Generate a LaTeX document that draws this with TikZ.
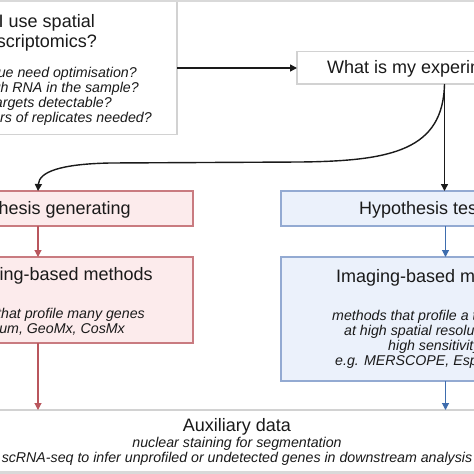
\documentclass[tikz,border=0pt]{standalone}
\usepackage{fontspec}
\setmainfont{Liberation Sans}
\usetikzlibrary{arrows.meta}
\definecolor{boxgray}{HTML}{D2D2D2}
\definecolor{bandgray}{HTML}{D9D9D9}
\definecolor{redline}{HTML}{C97B80}
\definecolor{redfill}{HTML}{FCEBEC}
\definecolor{redarr}{HTML}{B9565D}
\definecolor{blueline}{HTML}{93AAD2}
\definecolor{bluefill}{HTML}{EBF1FB}
\definecolor{bluearr}{HTML}{3E6DAE}
\definecolor{txt}{HTML}{1A1A1A}
\begin{document}
\begin{tikzpicture}[x=1pt,y=-1pt,
  boxbase/.style={inner sep=0pt, outer sep=0pt, line width=1.1pt, anchor=north west},
  graybox/.style={boxbase, draw=boxgray, fill=white},
  redbox/.style={boxbase, draw=redline, fill=redfill},
  bluebox/.style={boxbase, draw=blueline, fill=bluefill},
  big/.style={font=\fontsize{18}{21}\selectfont, inner sep=0pt, text=txt},
  small/.style={font=\fontsize{14.2}{15}\selectfont\itshape, inner sep=0pt, text=txt},
  blackarrow/.style={-{Triangle[length=7pt,width=7pt]}, line width=1.4pt, draw=txt},
  redarrow/.style={-{Triangle[length=7pt,width=7pt]}, line width=1.1pt, draw=redarr},
  bluearrow/.style={-{Triangle[length=7pt,width=7pt]}, line width=1.1pt, draw=bluearr}]
\useasboundingbox (0,0) rectangle (474,474);
\clip (0,0) rectangle (474,474);
\fill[white] (0,0) rectangle (474,474);

% boxes
\node[graybox, minimum width=187pt, minimum height=133pt] (Q) at (-10,1.5) {};
\node[graybox, minimum width=200pt, minimum height=32.5pt] (E) at (297,51.5) {};
\node[redbox, minimum width=203pt, minimum height=35pt] (HG) at (-10,191) {};
\node[redbox, minimum width=203pt, minimum height=86pt] (IG) at (-10,257) {};
\node[bluebox, minimum width=210pt, minimum height=35pt] (HT) at (281,191) {};
\node[bluebox, minimum width=210pt, minimum height=124pt] (IT) at (281,257) {};
\node[graybox, minimum width=500pt, minimum height=70pt] (AX) at (-10,410) {};

% gray frame bands
\fill[bandgray] (0,0) rectangle (474,1.8);
\fill[bandgray] (0,471) rectangle (474,474);

% texts: question box
\node[big, anchor=base east] (q1) at (95,27) {Should I use spatial};
\node[big, anchor=base east] (q2) at (97,47) {transcriptomics?};
\node[small, anchor=base east] (q3) at (137,77) {Does the tissue need optimisation?};
\node[small, anchor=base east] (q4) at (139,92) {Is there enough RNA in the sample?};
\node[small, anchor=base east] (q5) at (112,107) {Are the targets detectable?};
\node[small, anchor=base east] (q6) at (152,122) {What numbers of replicates needed?};

% experiment box
\node[big, anchor=base west] (e1) at (327,73) {What is my experimental aim?};

% red side
\node[big, anchor=base east] (hg1) at (131,214) {Hypothesis generating};
\node[big, anchor=base east] (ig1) at (153,280) {Sequencing-based methods};
\node[small, anchor=base east] (ig2) at (145,318) {methods that profile many genes};
\node[small, anchor=base east] (ig3) at (125,333) {e.g. Visium, GeoMx, CosMx};

% blue side
\node[big, anchor=base west] (ht1) at (359,214) {Hypothesis testing};
\node[big, anchor=base west] (it1) at (336,282) {Imaging-based methods};
\node[small, anchor=base west] (it2) at (332,320) {methods that profile a targeted panel};
\node[small, anchor=base west] (it3) at (344,335) {at high spatial resolution and};
\node[small, anchor=base west] (it4) at (388,350) {high sensitivity};
\node[small, anchor=base west] (it5) at (335,365) {e.g. MERSCOPE, Espeon};

% auxiliary
\node[big, anchor=base] (ax1) at (237,431) {Auxiliary data};
\node[small, anchor=base] (ax2) at (237,447) {nuclear staining for segmentation};
\node[small, anchor=base] (ax3) at (237,462) {scRNA-seq to infer unprofiled or undetected genes in downstream analysis};

% connector coordinates
\coordinate (cE) at (444.5,0);
\coordinate (cL) at (38,0);
\coordinate (cR) at (445.5,0);

% connectors
\draw[blackarrow] (Q.east) -- (Q.east -| E.west);
\draw[blackarrow] (E.south -| cE) -- (HT.north -| cE);
\draw[blackarrow] (E.south -| cE) .. controls (443,150) and (392,161) .. (300,162)
   -- (110,163) .. controls (60,164) and (39,172) .. (HG.north -| cL);
\draw[redarrow] (HG.south -| cL) -- (IG.north -| cL);
\draw[redarrow] (IG.south -| cL) -- (AX.north -| cL);
\draw[bluearrow] (HT.south -| cR) -- (IT.north -| cR);
\draw[bluearrow] (IT.south -| cR) -- (AX.north -| cR);
\end{tikzpicture}
\end{document}
